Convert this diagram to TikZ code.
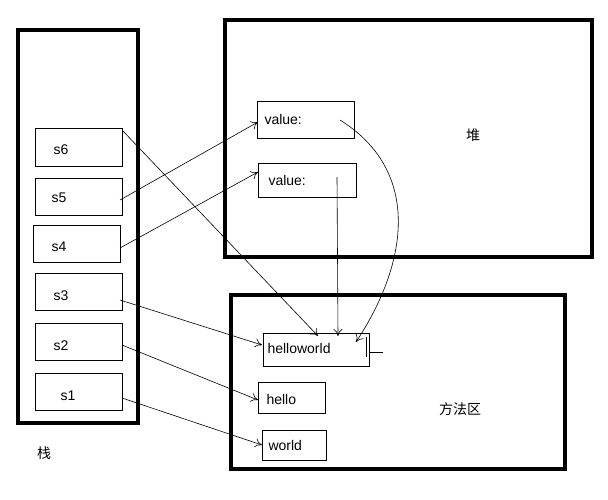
\documentclass[tikz,border=0pt]{standalone}
\usepackage{fontspec}
\usetikzlibrary{arrows.meta}
\setmainfont{Liberation Sans}
\newfontfamily\cjk{Noto Sans CJK SC}
\begin{document}
\begin{tikzpicture}[x=1pt,y=-1pt,font=\fontsize{14}{16}\selectfont,
 frame/.style={draw,line width=3.5pt},
 box/.style={draw,line width=0.7pt,anchor=north west,inner sep=0pt},
 arr/.style={-{To[length=7pt,width=9pt]},line width=0.6pt},
 lab/.style={font=\fontsize{14}{16}\selectfont\cjk}]
\useasboundingbox (0,0) rectangle (608,499);
\draw[frame] (18,30) rectangle (138,423);
\draw[frame] (225,20) rectangle (592,257);
\draw[frame] (231,295) rectangle (565,469);
\node[lab] (zhan) at (44,453) {栈};
\node[lab] (dui) at (473,135) {堆};
\node[lab] (ff) at (460,409) {方法区};
\node[box,minimum width=87pt,minimum height=38pt] (s6) at (35,128) {};
\node[anchor=west] at (50,150) {s6};
\node[box,minimum width=87pt,minimum height=37pt] (s5) at (35,178) {};
\node[anchor=west] at (48,198) {s5};
\node[box,minimum width=87pt,minimum height=37pt] (s4) at (33,225) {};
\node[anchor=west] at (48,247) {s4};
\node[box,minimum width=87pt,minimum height=37pt] (s3) at (35,273) {};
\node[anchor=west] at (50,296) {s3};
\node[box,minimum width=87pt,minimum height=37pt] (s2) at (35,323) {};
\node[anchor=west] at (50,346) {s2};
\node[box,minimum width=87pt,minimum height=37pt] (s1) at (35,373) {};
\node[anchor=west] at (57,396) {s1};
\node[box,minimum width=97pt,minimum height=37pt] (v1) at (257,101) {};
\node[anchor=west] at (261,119) {value:};
\node[box,minimum width=98pt,minimum height=34pt] (v2) at (258,163) {};
\node[anchor=west] at (265,180) {value:};
\node[box,minimum width=106pt,minimum height=33pt] (hw) at (263,333) {};
\node[anchor=west] at (264,348) {helloworld};
\node[box,minimum width=67pt,minimum height=31pt] (h) at (258,382) {};
\node[anchor=west] at (263,399) {hello};
\node[box,minimum width=64pt,minimum height=30pt] (w) at (262,430) {};
\node[anchor=west] at (265,445) {world};
\coordinate (c1) at (318,336);
\coordinate (c2) at (338,336);
\coordinate (c3) at (356,342);
\draw[arr] (122,130) -- (c1);
\draw[arr] (120,200) -- (258,122);
\draw[arr] (120,248) -- (258,172);
\draw[arr] (120,300) -- (262,345);
\draw[arr] (122,345) -- (258,400);
\draw[arr] (122,398) -- (262,445);
\draw[arr] (337,177) -- (c2);
\draw[arr] (340,120) .. controls (420,170) and (410,260) .. (c3);
\draw[line width=0.6pt] (366,337) -- (366,357) (370,352) -- (383,352);
\end{tikzpicture}
\end{document}
